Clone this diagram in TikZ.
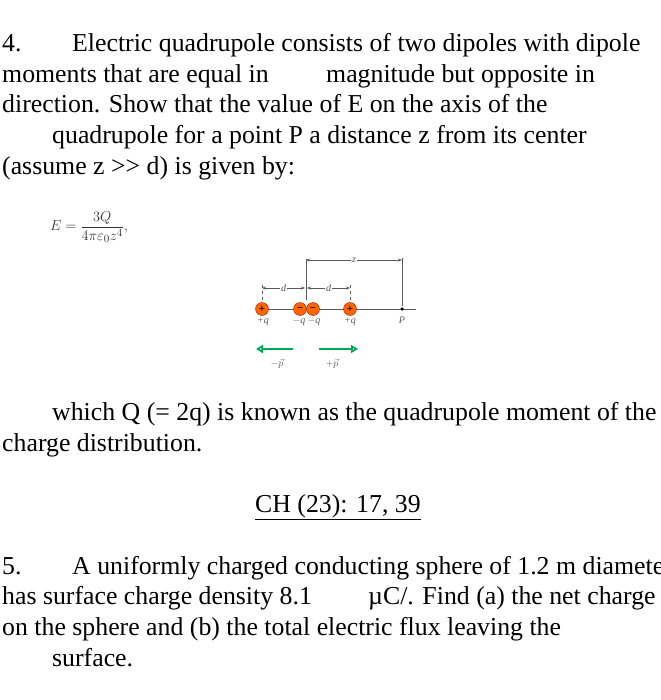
\documentclass[tikz,border=0pt]{standalone}
\usepackage{fontspec}
\setmainfont{Liberation Serif}
\usetikzlibrary{arrows.meta}
\begin{document}
\begin{tikzpicture}[x=1pt,y=-1pt,
  txt/.style={anchor=base west,inner sep=0pt,font=\fontsize{25.8}{26}\selectfont},
  chg/.style={circle,fill=orange!80!red,draw=red!60!black,line width=0.3pt,minimum size=13pt,inner sep=0pt,font=\fontsize{11}{11}\selectfont\bfseries},
  lab/.style={inner sep=0pt,font=\fontsize{10}{10}\selectfont\itshape,text=gray!70!black},
  dim/.style={gray!70!black,line width=0.5pt,{Stealth[length=4pt]}-{Stealth[length=4pt]}},
  ext/.style={gray!70!black,line width=0.6pt},
  parr/.style={teal!70!green,line width=1.8pt,-{Triangle[open,length=7pt,width=8pt]}}]
\useasboundingbox (0,0) rectangle (660,700);
\clip (0,0) rectangle (660,700);
\node[txt] (n4) at (2,52) {4.};
\node[txt] (l1) at (72,52) {Electric quadrupole consists of two dipoles with dipole};
\node[txt] (l2a) at (2,83) {moments that are equal in};
\node[txt] (l2b) at (326,83) {magnitude but opposite in};
\node[txt] (l3) at (2,113) {direction. Show that the value of E on the axis of the};
\node[txt] (l4) at (52,144) {quadrupole for a point P a distance z from its center};
\node[txt] (l5) at (2,175) {(assume z >{}> d) is given by:};
\node[anchor=west,inner sep=0pt,font=\fontsize{15}{15}\selectfont,text=gray!40!black] (eq) at (50,227) {$\displaystyle E=\frac{3Q}{4\pi\varepsilon_0 z^4},$};
% diagram
\coordinate (c0) at (306,309);
\draw[ext] (262,309) -- (416,309);
\draw[ext,dashed] (262,309) -- (350,309);
\node[chg] (q1) at (262,309) {+};
\node[chg] (q2) at (300,309) {\textminus};
\node[chg] (q3) at (313,309) {\textminus};
\node[chg] (q4) at (350,309) {+};
\node[circle,fill=black,inner sep=0pt,minimum size=3.5pt] (P) at (402,309) {};
\node[lab] at (263,322) {+q};
\node[lab] at (299,322) {$-$q};
\node[lab] at (314,322) {$-$q};
\node[lab] at (350,322) {+q};
\node[lab] at (402,320) {P};
\coordinate (cz) at (306,260);
\coordinate (pz) at (402,260);
\draw[ext] (306,259) -- (306,300);
\draw[ext] (402,258) -- (402,306);
\draw[ext,dashed] (262,285) -- (262,302);
\draw[ext,dashed] (350,285) -- (350,302);
\draw[dim] (cz) -- node[fill=white,lab,inner sep=1pt]{z} (pz);
\draw[dim] (262,288) -- node[fill=white,lab,inner sep=1pt]{d} (305,288);
\draw[dim] (307,288) -- node[fill=white,lab,inner sep=1pt]{d} (350,288);
\draw[parr] (293,349) -- (256,349);
\draw[parr] (319,349) -- (358,349);
\node[lab] at (277,364) {$-\vec{p}$};
\node[lab] at (332,364) {$+\vec{p}$};
\node[txt] (l6) at (52,420) {which Q (= 2q) is known as the quadrupole moment of the};
\node[txt] (l7) at (2,451) {charge distribution.};
\node[txt] (ch) at (255,512) {\underline{CH (23): 17, 39}};
\node[txt] (n5) at (2,574) {5.};
\node[txt] (m1) at (72,574) {A uniformly charged conducting sphere of 1.2 m diameter};
\node[txt] (m2a) at (2,604) {has surface charge density 8.1};
\node[txt] (m2b) at (368,604) {µC/. Find (a) the net charge};
\node[txt] (m3) at (2,635) {on the sphere and (b) the total electric flux leaving the};
\node[txt] (m4) at (52,666) {surface.};
\end{tikzpicture}
\end{document}
